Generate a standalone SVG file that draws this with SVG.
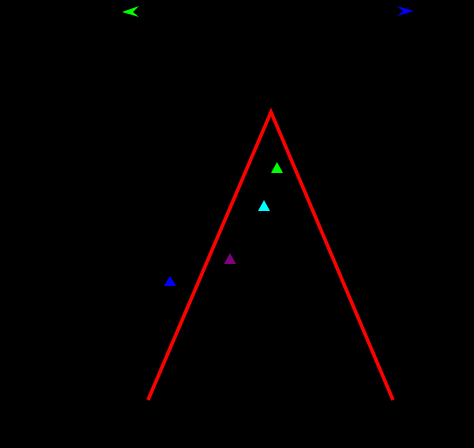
<svg xmlns="http://www.w3.org/2000/svg" width="474" height="448" viewBox="0 0 474 448">
<style>
.tri{stroke:none}
</style>
<rect width="474" height="448" fill="#000"/>
<g id="connectors">
<polyline points="148,400 271,112 393,400" fill="none" stroke="#ff0000" stroke-width="3.5" stroke-linejoin="miter"/>
</g>
<g id="arrow-green"><path d="M122,12 L139,6 L133,12 L139,17 Z" fill="#00ff00"/></g>
<g id="arrow-blue"><path d="M414,11 L397,6 L403,11 L397,16 Z" fill="#0000ff"/></g>
<g id="tri-green"><path class="tri" d="M277,162 L283,173 L271,173 Z" fill="#00ff00"/></g>
<g id="tri-cyan"><path class="tri" d="M264,200 L270,211 L258,211 Z" fill="#00ffff"/></g>
<g id="tri-purple"><path class="tri" d="M230,253 L236,264 L224,264 Z" fill="#800080"/></g>
<g id="tri-blue"><path class="tri" d="M170,276 L176,286 L164,286 Z" fill="#0000ff"/></g>
</svg>
